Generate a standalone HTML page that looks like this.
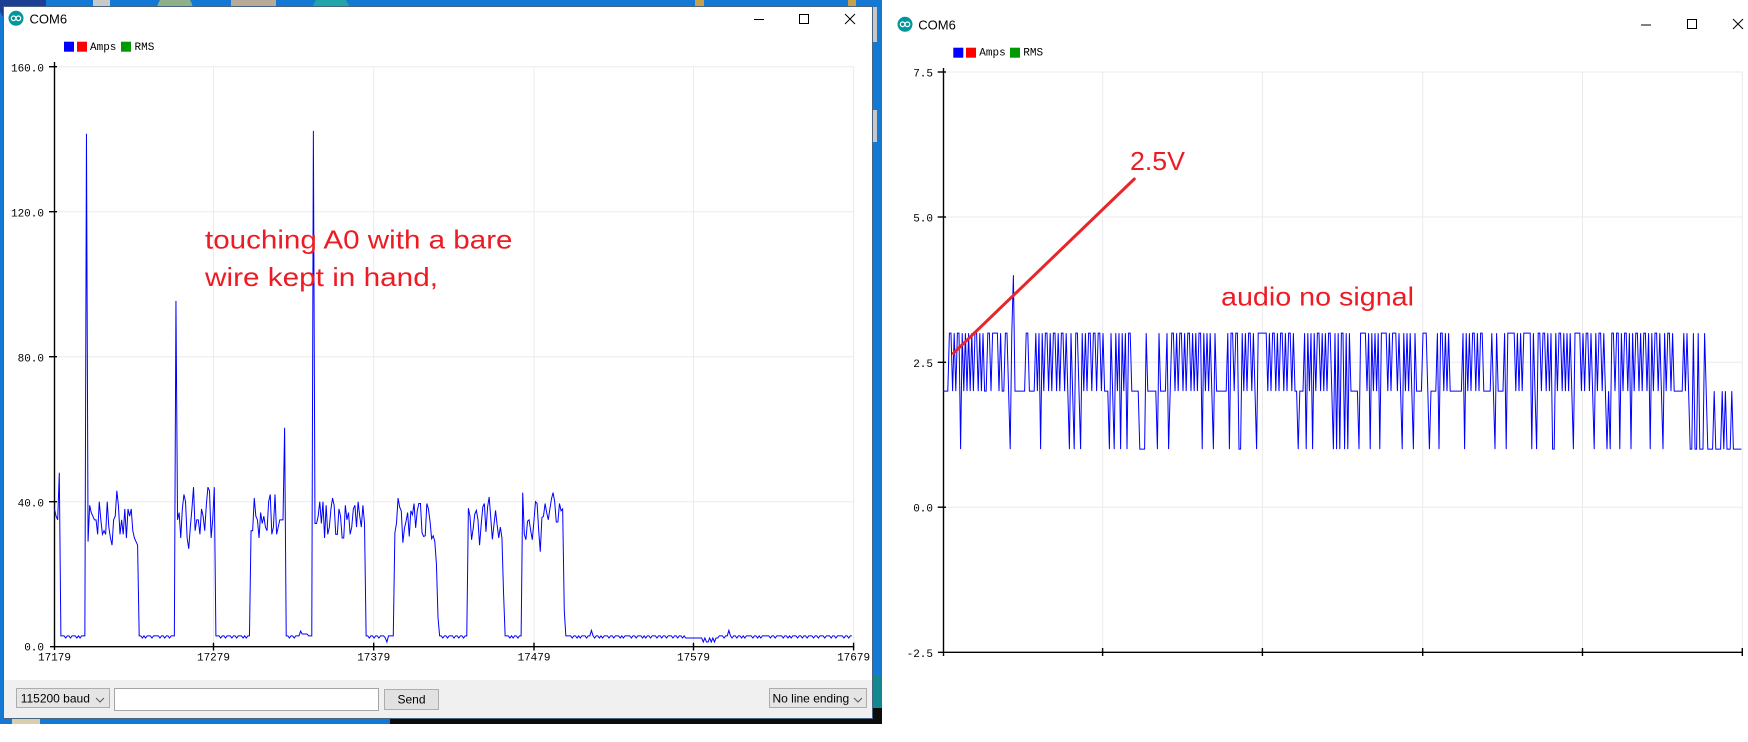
<!DOCTYPE html>
<html><head><meta charset="utf-8"><style>
html,body{margin:0;padding:0;background:#fff;width:1748px;height:742px;overflow:hidden}
svg{display:block}
.mono{font-family:"Liberation Mono","DejaVu Sans Mono",monospace;font-size:11px;fill:#000}
.ui{font-family:"Liberation Sans","DejaVu Sans",sans-serif;fill:#000}
.ann{font-family:"Liberation Sans","DejaVu Sans",sans-serif;font-size:26px;fill:#ed1c24}
</style></head><body>
<svg width="1748" height="742" viewBox="0 0 1748 742" xmlns="http://www.w3.org/2000/svg">
<rect x="0" y="0" width="1748" height="742" fill="#fff"/>
<!-- desktop behind -->
<rect x="0" y="0" width="882" height="724" fill="#1479d4"/>
<circle cx="22" cy="2" r="24" fill="#1d3f93"/>
<rect x="93" y="0" width="17" height="6" fill="#c9c9c9"/>
<circle cx="175" cy="10" r="18" fill="#8fae8a"/>
<rect x="231" y="0" width="45" height="7" fill="#b8aa98"/>
<circle cx="331" cy="12" r="19" fill="#21a5a8"/>
<rect x="695" y="0" width="9" height="6" fill="#c8a24a"/>
<rect x="848" y="0" width="8" height="6" fill="#c8a24a"/>
<rect x="873" y="7" width="4" height="35" fill="#c8c8c8"/>
<rect x="873" y="110" width="4" height="32" fill="#c8c8c8"/>
<rect x="873" y="675" width="9" height="33" fill="#11898e"/>
<rect x="873" y="708" width="9" height="16" fill="#0c0c0c"/>
<rect x="390" y="719" width="483" height="5" fill="#0c0c0c"/>
<rect x="12" y="719" width="28" height="5" fill="#d9cfae"/>

<!-- LEFT WINDOW -->
<rect x="3.5" y="6.5" width="869" height="712" fill="#fff" stroke="#4a6380" stroke-width="1"/>
<circle cx="16" cy="18.3" r="7.5" fill="#00979c"/>
<circle cx="13.6" cy="18.3" r="2.3" fill="none" stroke="#fff" stroke-width="1.2"/>
<circle cx="18.4" cy="18.3" r="2.3" fill="none" stroke="#fff" stroke-width="1.2"/>
<text class="ui" x="29.5" y="23.3" font-size="13">COM6</text>
<line x1="754" y1="19.5" x2="764" y2="19.5" stroke="#000" stroke-width="1"/>
<rect x="799.5" y="14.5" width="9" height="9" fill="none" stroke="#000" stroke-width="1"/>
<line x1="845" y1="14" x2="855" y2="24" stroke="#000" stroke-width="1"/>
<line x1="855" y1="14" x2="845" y2="24" stroke="#000" stroke-width="1"/>
<!-- legend -->
<rect x="64" y="41.7" width="10" height="10" fill="#0000ff"/>
<rect x="77" y="41.7" width="10" height="10" fill="#ff0000"/>
<text class="mono" x="90" y="50">Amps</text>
<rect x="121" y="41.7" width="10" height="10" fill="#009900"/>
<text class="mono" x="134.5" y="50">RMS</text>
<!-- grid -->
<g stroke="#ebebeb" stroke-width="1">
<line x1="54.5" y1="66.7" x2="853.6" y2="66.7"/>
<line x1="54.5" y1="211.7" x2="853.6" y2="211.7"/>
<line x1="54.5" y1="356.7" x2="853.6" y2="356.7"/>
<line x1="54.5" y1="501.7" x2="853.6" y2="501.7"/>
<line x1="213.5" y1="66.7" x2="213.5" y2="646.7"/>
<line x1="373.7" y1="66.7" x2="373.7" y2="646.7"/>
<line x1="534" y1="66.7" x2="534" y2="646.7"/>
<line x1="693.5" y1="66.7" x2="693.5" y2="646.7"/>
<line x1="853.6" y1="66.7" x2="853.6" y2="646.7"/>
</g>
<g stroke="#000" stroke-width="1.4">
<line x1="54.5" y1="62" x2="54.5" y2="650"/>
<line x1="50" y1="646.7" x2="854.3" y2="646.7"/>
<line x1="49" y1="66.7" x2="57" y2="66.7"/>
<line x1="49" y1="211.7" x2="57" y2="211.7"/>
<line x1="49" y1="356.7" x2="57" y2="356.7"/>
<line x1="49" y1="501.7" x2="57" y2="501.7"/>
<line x1="213.5" y1="642.7" x2="213.5" y2="650.5"/>
<line x1="373.7" y1="642.7" x2="373.7" y2="650.5"/>
<line x1="534" y1="642.7" x2="534" y2="650.5"/>
<line x1="693.5" y1="642.7" x2="693.5" y2="650.5"/>
<line x1="853.6" y1="642.7" x2="853.6" y2="650.5"/>
</g>
<g class="mono" text-anchor="end">
<text x="44" y="71.4">160.0</text>
<text x="44" y="216.4">120.0</text>
<text x="44" y="361.4">80.0</text>
<text x="44" y="506.4">40.0</text>
<text x="44" y="650.4">0.0</text>
</g>
<g class="mono" text-anchor="middle">
<text x="54.5" y="660.5">17179</text>
<text x="213.5" y="660.5">17279</text>
<text x="373.7" y="660.5">17379</text>
<text x="534" y="660.5">17479</text>
<text x="693.5" y="660.5">17579</text>
<text x="853.6" y="660.5">17679</text>
</g>
<g transform="translate(54.5,646.7) scale(1.598,-3.625)">
<polyline fill="none" stroke="#0000ff" stroke-width="1" vector-effect="non-scaling-stroke" points="0,38 1,36 2,35 3,48 4,3 5,3 6,3 7,2.4 8,3 9,3 10,2.4 11,3 12,3 13,3 14,2.4 15,3 16,2.4 17,3 18,3 19,3 20,141.5 21,29 22,39 23,37 24,36 25,35 26,35 27,31 28,40 29,35 30,31 31,32 32,31 33,40 34,33 35,30 36,28 37,35 38,36 39,43 40,39 41,31 42,35 43,31 44,38 45,30 46,38 47,36 48,38 49,32 50,30 51,29 52,28 53,3 54,3 55,2.4 56,3 57,2.4 58,3 59,3 60,3 61,2.4 62,3 63,3 64,3 65,3 66,2.4 67,3 68,3 69,2.4 70,3 71,3 72,2.4 73,3 74,3 75,3 76,95.4 77,35 78,37 79,30 80,38 81,42 82,40 83,30 84,27 85,33 86,38 87,44 88,32 89,35 90,35 91,31 92,38 93,36 94,32 95,39 96,44 97,43 98,30 99,35 100,44 101,3 102,3 103,3 104,2.4 105,3 106,3 107,2.4 108,3 109,3 110,3 111,2.4 112,3 113,3 114,2.4 115,3 116,3 117,3 118,2.4 119,3 120,2.4 121,3 122,3 123,32 124,32 125,41 126,36 127,35 128,30 129,37 130,34 131,36 132,33 133,32 134,40 135,42 136,31 137,33 138,42 139,31 140,33 141,35 142,35 143,35 144,60.4 145,3 146,3 147,2.4 148,3 149,3 150,2.4 151,3 152,3 153,3 154,4.3 155,3.5 156,3.5 157,3.5 158,3.5 159,3 160,3 161,3 162,142.3 163,34 164,34 165,36 166,40 167,34 168,40 169,30 170,39 171,31 172,33 173,38 174,41 175,39 176,31 177,31 178,38 179,36 180,30 181,30 182,39 183,35 184,37 185,31 186,33 187,38 188,39 189,33 190,40 191,36 192,33 193,39 194,34 195,3 196,3 197,2.4 198,3 199,3 200,2.4 201,3 202,3 203,2.4 204,3 205,3 206,3 207,2.4 208,1.3 209,3 210,3 211,3 212,3 213,31.4 214,34 215,41 216,38.5 217,37.5 218,28.7 219,32.7 220,34.6 221,37 222,30.4 223,37.5 224,36.4 225,39.5 226,32.8 227,37.5 228,39.5 229,39.5 230,31.4 231,30.4 232,30.6 233,39.5 234,38 235,34.6 236,29.8 237,30.6 238,29 239,22.8 240,8 241,3 242,3 243,2.4 244,3 245,3 246,2.4 247,3 248,3 249,3 250,2.4 251,3 252,3 253,2.4 254,3 255,3 256,2.4 257,3 258,3 259,38.2 260,36 261,29.5 262,32.6 263,36.6 264,37.6 265,35 266,28 267,33.6 268,38.5 269,39.5 270,31.7 271,38.5 272,41.3 273,35.6 274,29.6 275,33.6 276,37.6 277,33.6 278,30 279,33 280,30 281,14.9 282,3 283,3 284,3 285,2.4 286,3 287,2.4 288,3 289,3 290,2.4 291,3 292,3 293,42.5 294,31 295,29.5 296,34.6 297,35 298,32 299,29.5 300,34.6 301,40 302,39.5 303,32 304,26.2 305,35.6 306,36 307,39.5 308,37 309,35 310,38 311,40.8 312,42.5 313,40 314,34.4 315,34.4 316,39.5 317,37.5 318,38 319,10 320,3 321,3 322,3 323,3 324,2.4 325,3 326,3 327,2.4 328,3 329,2.4 330,3 331,3 332,3 333,2.4 334,3 335,3 336,4.5 337,3 338,2.4 339,3 340,3 341,2.4 342,3 343,2.4 344,3 345,3 346,3 347,2.4 348,3 349,3 350,2.4 351,3 352,3 353,3 354,2.4 355,3 356,2.4 357,3 358,3 359,3 360,3 361,2.4 362,3 363,3 364,2.4 365,3 366,3 367,3 368,2.4 369,3 370,2.4 371,3 372,3 373,2.4 374,3 375,3 376,3 377,2.4 378,3 379,3 380,2.4 381,3 382,3 383,2.4 384,3 385,3 386,3 387,2.4 388,3 389,3 390,2.4 391,3 392,3 393,2.4 394,3 395,2.4 405,2.4 406,1.3 407,2.4 408,1.3 409,1.3 410,2.4 411,1.3 412,2.4 413,1.3 414,2.4 415,2.4 416,3 417,3 418,3 419,2.4 420,3 421,3 422,4.5 423,3 424,2.4 425,3 426,3 427,2.4 428,3 429,3 430,2.4 431,3 432,2.4 433,3 434,3 435,3 436,3 437,2.4 438,3 439,3 440,2.4 441,3 442,2.4 443,3 444,3 445,3 446,3 447,3 448,2.4 449,3 450,3 451,2.4 452,3 453,3 454,3 455,3 456,2.4 457,3 458,3 459,2.4 460,3 461,2.4 462,3 463,3 464,3 465,2.4 466,3 467,3 468,2.4 469,3 470,3 471,2.4 472,3 473,3 474,3 475,2.4 476,3 477,3 478,2.4 479,3 480,3 481,3 482,2.4 483,3 484,3 485,3 486,2.4 487,3 488,3 489,2.4 490,3 491,3 492,3 493,3 494,2.4 495,3 496,3 497,2.4 498,3 499,3"/>
</g>
<!-- bottom control bar -->
<rect x="4" y="680" width="868" height="38" fill="#f0f0f0"/>
<rect x="16.5" y="688.5" width="93" height="19" fill="#e5e5e5" stroke="#adadad" stroke-width="1"/>
<text class="ui" x="20.7" y="702.3" font-size="12">115200 baud</text>
<polyline points="96,698 100,702 104,698" fill="none" stroke="#555" stroke-width="1"/>
<rect x="114.5" y="688.5" width="264" height="22" fill="#fff" stroke="#a5a5a5" stroke-width="1"/>
<rect x="384.5" y="689.5" width="54" height="20" fill="#e1e1e1" stroke="#adadad" stroke-width="1"/>
<text class="ui" x="411.5" y="703.5" font-size="12" text-anchor="middle">Send</text>
<rect x="769.5" y="688.5" width="97" height="19" fill="#e5e5e5" stroke="#adadad" stroke-width="1"/>
<text class="ui" x="772.5" y="702.3" font-size="12">No line ending</text>
<polyline points="854,698 858,702 862,698" fill="none" stroke="#555" stroke-width="1"/>
<!-- left annotation -->
<text class="ann" x="205" y="248.3" textLength="307.5" lengthAdjust="spacingAndGlyphs">touching A0 with a bare</text>
<text class="ann" x="205" y="286" textLength="233" lengthAdjust="spacingAndGlyphs">wire kept in hand,</text>

<!-- RIGHT WINDOW -->
<rect x="882" y="0" width="866" height="724" fill="#fff"/>
<circle cx="905" cy="24.3" r="7.5" fill="#00979c"/>
<circle cx="902.6" cy="24.3" r="2.3" fill="none" stroke="#fff" stroke-width="1.2"/>
<circle cx="907.4" cy="24.3" r="2.3" fill="none" stroke="#fff" stroke-width="1.2"/>
<text class="ui" x="918.3" y="29.3" font-size="13">COM6</text>
<line x1="1641" y1="25" x2="1651" y2="25" stroke="#000" stroke-width="1"/>
<rect x="1687.5" y="19.5" width="9" height="9" fill="none" stroke="#000" stroke-width="1"/>
<line x1="1733" y1="19" x2="1743" y2="29" stroke="#000" stroke-width="1"/>
<line x1="1743" y1="19" x2="1733" y2="29" stroke="#000" stroke-width="1"/>
<rect x="953.3" y="47.7" width="10" height="10" fill="#0000ff"/>
<rect x="966" y="47.7" width="10" height="10" fill="#ff0000"/>
<text class="mono" x="979.3" y="55.5">Amps</text>
<rect x="1010" y="47.7" width="10" height="10" fill="#009900"/>
<text class="mono" x="1023.3" y="55.5">RMS</text>
<g stroke="#ebebeb" stroke-width="1">
<line x1="943" y1="72" x2="1742.3" y2="72"/>
<line x1="943" y1="217" x2="1742.3" y2="217"/>
<line x1="943" y1="362.3" x2="1742.3" y2="362.3"/>
<line x1="943" y1="507.2" x2="1742.3" y2="507.2"/>
<line x1="1102.6" y1="72" x2="1102.6" y2="652.3"/>
<line x1="1262.4" y1="72" x2="1262.4" y2="652.3"/>
<line x1="1422.7" y1="72" x2="1422.7" y2="652.3"/>
<line x1="1582.5" y1="72" x2="1582.5" y2="652.3"/>
<line x1="1742.3" y1="72" x2="1742.3" y2="652.3"/>
</g>
<g stroke="#000" stroke-width="1.4">
<line x1="943.5" y1="68" x2="943.5" y2="656"/>
<line x1="938" y1="652.3" x2="1743" y2="652.3"/>
<line x1="937.7" y1="72" x2="946" y2="72"/>
<line x1="937.7" y1="217" x2="946" y2="217"/>
<line x1="937.7" y1="362.3" x2="946" y2="362.3"/>
<line x1="937.7" y1="507.2" x2="946" y2="507.2"/>
<line x1="1102.6" y1="648" x2="1102.6" y2="656"/>
<line x1="1262.4" y1="648" x2="1262.4" y2="656"/>
<line x1="1422.7" y1="648" x2="1422.7" y2="656"/>
<line x1="1582.5" y1="648" x2="1582.5" y2="656"/>
<line x1="1742.3" y1="648" x2="1742.3" y2="656"/>
</g>
<g class="mono" text-anchor="end">
<text x="933" y="76.5">7.5</text>
<text x="933" y="221.5">5.0</text>
<text x="933" y="366.8">2.5</text>
<text x="933" y="511.7">0.0</text>
<text x="933" y="656.8">-2.5</text>
</g>
<g transform="translate(943,507.2) scale(1.6,-58.03)">
<polyline fill="none" stroke="#0000ff" stroke-width="1" vector-effect="non-scaling-stroke" points="0,2 1,2 2,2 3,2 4,3 5,3 6,2 7,3 8,2 9,3 10,3 11,1 12,3 13,2 14,3 15,2 16,3 17,2 18,3 19,2 20,3 21,3 22,2 23,3 24,2 25,3 26,2 27,2 28,3 29,3 30,2 31,3 32,3 33,3 34,3 35,2 36,3 37,2 38,2 39,3 40,3 41,2 42,1 43,3 44,4 45,2 46,2 47,2 48,2 49,2 50,2 51,2 52,3 53,3 54,2 55,2 56,2 57,2 58,3 59,2 60,3 61,1 62,3 63,2 64,3 65,3 66,2 67,3 68,2 69,3 70,3 71,2 72,3 73,2 74,3 75,3 76,2 77,3 78,2 79,1 80,3 81,2 82,1 83,3 84,3 85,2 86,1 87,3 88,2 89,3 90,2 91,3 92,3 93,2 94,3 95,3 96,2 97,3 98,3 99,2 100,3 101,2 102,2 103,2 104,1 105,3 106,2 107,1 108,3 109,2 110,3 111,1 112,3 113,2 114,3 115,1 116,3 117,3 118,2 119,2 120,2 121,2 122,2 123,1 124,1 125,1 126,1 127,3 128,2 129,2 130,2 131,2 132,2 133,2 134,1 135,3 136,2 137,2 138,2 139,2 140,3 141,1 142,2 143,3 144,3 145,2 146,3 147,2 148,3 149,3 150,2 151,3 152,2 153,3 154,3 155,2 156,3 157,2 158,3 159,2 160,3 161,3 162,1 163,3 164,2 165,3 166,2 167,3 168,2 169,1 170,3 171,2 172,2 173,2 174,2 175,2 176,2 177,2 178,3 179,1 180,3 181,3 182,2 183,3 184,3 185,1 186,1 187,3 188,2 189,3 190,2 191,3 192,3 193,2 194,3 195,2 196,1 197,3 198,3 199,3 200,3 201,3 202,3 203,2 204,3 205,2 206,3 207,3 208,2 209,3 210,2 211,3 212,3 213,2 214,3 215,2 216,3 217,3 218,2 219,3 220,2 221,2 222,1 223,2 224,2 225,2 226,3 227,1 228,3 229,2 230,3 231,1 232,3 233,2 234,3 235,3 236,2 237,3 238,2 239,3 240,2 241,3 242,3 243,2 244,1 245,3 246,1 247,3 248,1 249,3 250,3 251,1 252,3 253,1 254,3 255,2 256,2 257,2 258,2 259,2 260,1 261,3 262,3 263,3 264,3 265,2 266,3 267,1 268,3 269,2 270,3 271,2 272,3 273,1 274,3 275,3 276,3 277,3 278,2 279,3 280,2 281,3 282,3 283,3 284,2 285,3 286,2 287,1 288,3 289,2 290,3 291,2 292,3 293,2 294,1 295,3 296,2 297,2 298,2 299,2 300,3 301,3 302,3 303,2 304,1 305,2 306,2 307,2 308,2 309,3 310,1 311,3 312,3 313,2 314,3 315,2 316,3 317,2 318,2 319,2 320,2 321,2 322,2 323,2 324,2 325,3 326,1 327,3 328,2 329,3 330,2 331,3 332,3 333,2 334,3 335,2 336,3 337,3 338,2 339,2 340,2 341,2 342,2 343,3 344,2 345,1 346,3 347,2 348,2 349,2 350,2 351,3 352,1 353,3 354,3 355,3 356,3 357,3 358,2 359,3 360,2 361,3 362,2 363,3 364,3 365,3 366,3 367,3 368,1 369,3 370,2 371,1 372,3 373,3 374,2 375,3 376,3 377,2 378,3 379,2 380,3 381,1 382,1 383,3 384,2 385,3 386,3 387,2 388,3 389,2 390,3 391,2 392,3 393,2 394,1 395,3 396,3 397,3 398,3 399,2 400,3 401,2 402,3 403,3 404,2 405,3 406,2 407,1 408,3 409,2 410,3 411,3 412,2 413,3 414,2 415,1 416,2 417,1 418,3 419,3 420,2 421,3 422,3 423,1 424,3 425,2 426,3 427,3 428,2 429,3 430,1 431,3 432,2 433,3 434,3 435,2 436,3 437,2 438,3 439,3 440,2 441,3 442,1 443,3 444,2 445,3 446,3 447,2 448,3 449,2 450,1 451,3 452,2 453,3 454,3 455,2 456,3 457,2 458,2 459,2 460,2 461,2 462,2 463,3 464,2 465,3 466,2 467,1 468,1 469,3 470,1 471,1 472,3 473,1 474,1 475,1 476,3 477,2 478,1 479,1 480,1 481,1 482,2 483,1 484,1 485,1 486,1 487,2 488,1 489,2 490,1 491,1 492,1 493,2 494,1 495,1 496,1 497,1 498,1 499,1"/>
</g>
<!-- right annotations -->
<line x1="953.3" y1="353.3" x2="1134.3" y2="179" stroke="#e8262a" stroke-width="3" stroke-linecap="round"/>
<text class="ann" x="1130" y="170" textLength="55" lengthAdjust="spacingAndGlyphs">2.5V</text>
<text class="ann" x="1221" y="305.7" textLength="193" lengthAdjust="spacingAndGlyphs">audio no signal</text>
</svg>
</body></html>
